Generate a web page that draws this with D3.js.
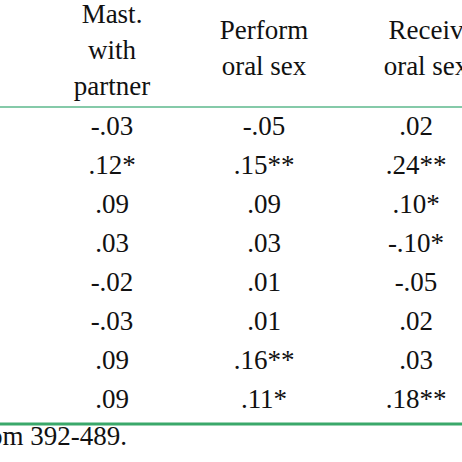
<!DOCTYPE html>
<html><head><meta charset="utf-8">
<script src="https://cdn.jsdelivr.net/npm/d3@7"></script>
<style>body{margin:0;background:#fff;overflow:hidden}</style>
</head><body><div id="wrapper"></div>
<script>
const columns = [["Mast.", "with", "partner"], ["Perform", "oral sex"], ["Receiv", "oral sex"]]
const col1 = ["-.03", ".12*", ".09", ".03", "-.02", "-.03", ".09", ".09"]
const col2 = ["-.05", ".15**", ".09", ".03", ".01", ".01", ".16**", ".11*"]
const col3 = [".02", ".24**", ".10*", "-.10*", "-.05", ".02", ".03", ".18**"]
const footnote = "From 392-489."

const W = 462, H = 462
const font = "'Liberation Serif', 'DejaVu Serif', serif"
const svg = d3.select("#wrapper").append("svg").attr("width", W).attr("height", H)
    .style("font-family", font)

const xScale = d3.scalePoint().domain([0, 1, 2]).range([112, 416])
const yScale = d3.scaleBand().domain(d3.range(col1.length)).range([109, 421])
const fs = 27

// header
columns.forEach((lines, i) => {
    const offset = lines.length === 3 ? 17 : 33
    lines.forEach((t, j) => {
        svg.append("text").attr("x", xScale(i) + (i === 2 ? 10 : 0)).attr("y", offset + j * 36)
            .attr("dominant-baseline", "middle").attr("text-anchor", "middle")
            .attr("font-family", font).attr("fill", "#111")
            .style("font-size", fs + "px").text(t)
    })
})

svg.append("line").attr("x1", 0).attr("x2", W).attr("y1", 107).attr("y2", 107)
    .attr("stroke", "#5db98c").attr("stroke-width", 1.6)

const cols = [col1, col2, col3]
cols.forEach((vals, i) => {
    svg.selectAll(null).data(vals).join("text")
        .attr("x", xScale(i))
        .attr("y", (d, k) => yScale(k) + yScale.bandwidth() / 2)
        .attr("dominant-baseline", "middle").attr("text-anchor", "middle")
        .attr("font-family", font).attr("fill", "#111")
        .style("font-size", fs + "px").text(d => d)
})

svg.append("line").attr("x1", 0).attr("x2", W).attr("y1", 424).attr("y2", 424)
    .attr("stroke", "#3aa86a").attr("stroke-width", 3)

svg.append("text").attr("x", -35).attr("y", 439).attr("dominant-baseline", "middle")
    .attr("font-family", font).attr("fill", "#111")
    .style("font-size", fs + "px").text(footnote)
</script></body></html>
